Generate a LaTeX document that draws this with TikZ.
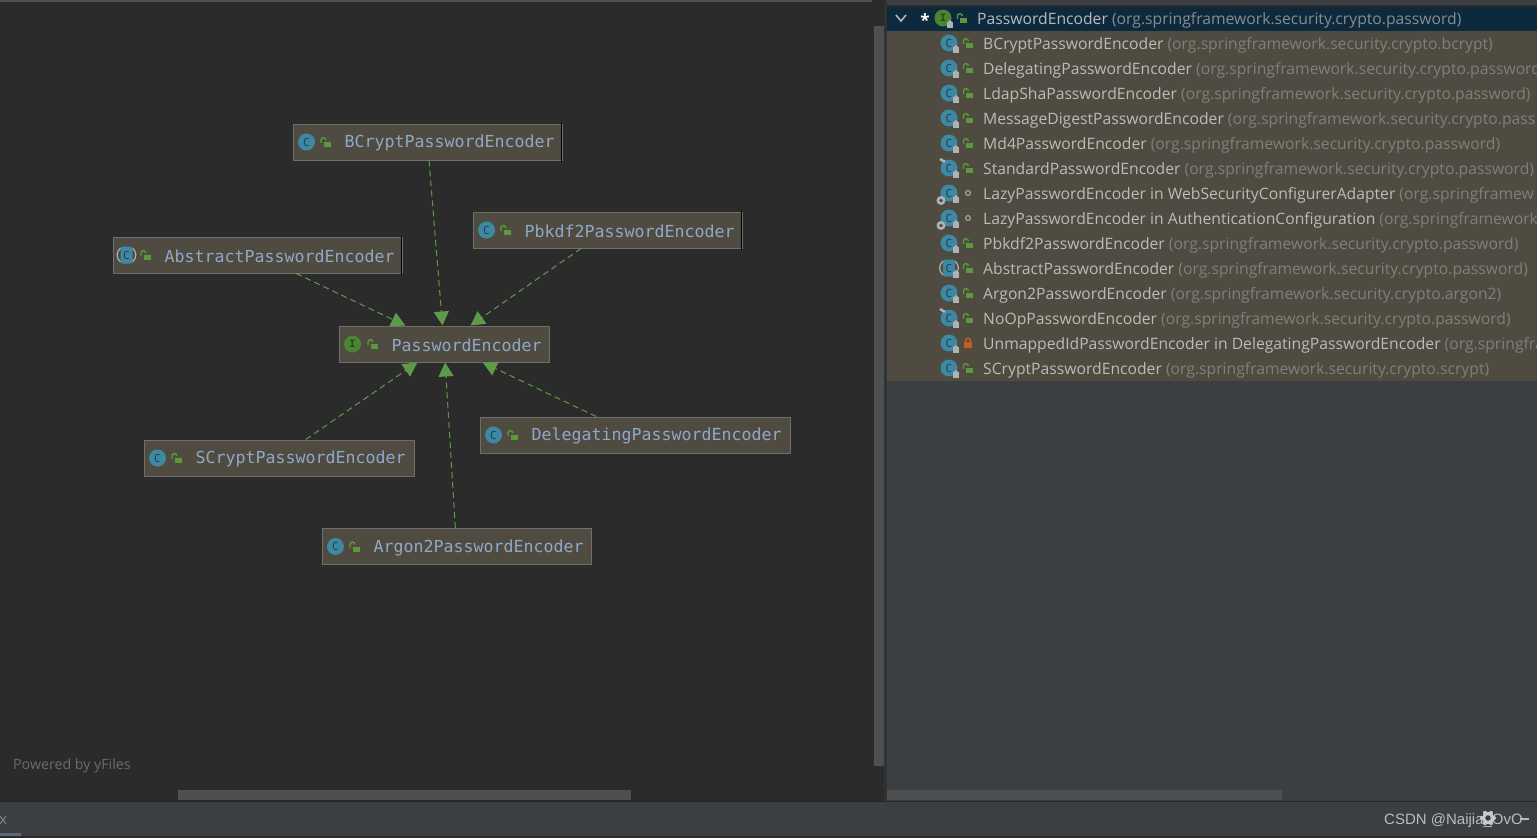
\documentclass[tikz,border=0pt]{standalone}
\usepackage{fontspec}
\setmainfont{Open Sans}
\setmonofont{DejaVu Sans Mono}
\newfontfamily\watermarkfont{Liberation Sans}
\usetikzlibrary{arrows.meta}

\definecolor{diagrambg}{HTML}{2B2B2B}
\definecolor{panelbg}{HTML}{3C3F41}
\definecolor{rowbg}{HTML}{4F4B41}
\definecolor{selectbg}{HTML}{0D293E}
\definecolor{barcol}{HTML}{4E4F50}
\definecolor{boxline}{HTML}{6E6E6E}
\definecolor{boxtext}{HTML}{8FA8C8}
\definecolor{edgecol}{HTML}{5F9A4A}
\definecolor{classcol}{HTML}{3F88A3}
\definecolor{classdark}{HTML}{1F3F4D}
\definecolor{ifacecol}{HTML}{4A8530}
\definecolor{ifacedark}{HTML}{2B3F22}
\definecolor{lockgreen}{HTML}{5A9A3C}
\definecolor{lockred}{HTML}{C75A22}
\definecolor{badge}{HTML}{AFB1B3}
\definecolor{namecol}{HTML}{BBBBBB}
\definecolor{pkgcol}{HTML}{7F7F7F}
\definecolor{dotcol}{HTML}{9A9A9A}

\tikzset{
  umlbox/.style={draw=boxline, fill=rowbg, line width=1pt, minimum height=36pt, inner sep=0pt},
  umltext/.style={anchor=west, inner sep=0pt, yshift=-1pt, text=boxtext, font=\ttfamily\fontsize{16.6}{18}\selectfont},
  rowtext/.style={anchor=west, inner sep=0pt, yshift=-2pt, text=namecol, font=\fontsize{15.7}{17}\selectfont},
  implements/.style={draw=edgecol, line width=1pt, dash pattern=on 6pt off 4pt,
    -{Triangle[length=14pt, width=15pt, fill=edgecol]}},
  classicon/.pic={
    \fill[classcol] (0,0) circle (8.5);
    \node[text=classdark, inner sep=0pt, font=\ttfamily\fontsize{11}{11}\selectfont] {C};
  },
  ifaceicon/.pic={
    \fill[ifacecol] (0,0) circle (8.5);
    \node[text=ifacedark, inner sep=0pt, font=\ttfamily\bfseries\fontsize{10}{10}\selectfont] {I};
  },
  abstracticon/.pic={
    \draw[badge, line width=1.2pt] (-6,-7) .. controls (-10.5,-3) and (-10.5,3) .. (-6,7);
    \draw[badge, line width=1.2pt] (6,-7) .. controls (10.5,-3) and (10.5,3) .. (6,7);
    \fill[classcol, rounded corners=2pt] (-6,-8.5) rectangle (6,8.5);
    \node[text=classdark, inner sep=0pt, font=\ttfamily\fontsize{11}{11}\selectfont] {C};
  },
  lockbadge/.pic={
    \fill[badge] (4,4.3) rectangle (10,10);
    \draw[badge, line width=1pt] (5.3,4.3) arc (180:360:1.7);
  },
  pinbadge/.pic={
    \draw[badge, line width=2.5pt] (-9,-9) -- (-4,-6);
  },
  gearbadge/.pic={
    \fill[badge] (-8,7.5) circle (4.5);
    \fill[rowbg] (-8,7.5) circle (1.8);
  },
  lockopen/.pic={
    \fill[lockgreen] (-2,0) rectangle (5,5);
    \draw[lockgreen, line width=1.4pt] (-4.5,1) -- (-4.5,-2) arc (180:360:2.4);
  },
  lockclosed/.pic={
    \fill[lockred] (-4,-1) rectangle (4,5);
    \draw[lockred, line width=1.4pt] (-2.4,-1) -- (-2.4,-2.5) arc (180:360:2.4) -- (2.4,-1);
  },
  lockdot/.pic={
    \draw[dotcol, line width=1.4pt] (0,0) circle (2.4);
  },
  plainclass/.pic={\pic {classicon}; \pic {lockbadge};},
  pinclass/.pic={\pic {classicon}; \pic {lockbadge}; \pic {pinbadge};},
  lazyclass/.pic={\pic {classicon}; \pic {lockbadge}; \pic {gearbadge};},
  abstractclass/.pic={\pic {abstracticon}; \pic {lockbadge};},
}

\begin{document}
\begin{tikzpicture}[x=1pt, y=-1pt]
\useasboundingbox (0,0) rectangle (1537,838);

% panels
\fill[diagrambg] (0,0) rectangle (1537,838);
\fill[barcol] (0,0) rectangle (872,2);
\fill[panelbg] (887,0) rectangle (1537,802);
\fill[panelbg] (0,802) rectangle (1537,836);
\fill[black!20!panelbg] (884,0) rectangle (887,802);
\fill[diagrambg] (887,5) rectangle (1537,7);
\fill[rowbg] (887,31) rectangle (1537,381);
\fill[selectbg] (887,7) rectangle (1537,31);

% scroll bars
\fill[barcol] (874,26) rectangle (884,766);
\fill[barcol] (178,790) rectangle (631,800);
\fill[barcol] (887,790) rectangle (1282,800);
\fill[black!40!panelbg] (0,801) rectangle (1537,802);

% boxes
\foreach \name/\x/\y/\w/\txt in {
  bcrypt/427.5/142/269/BCryptPasswordEncoder,
  pbkdf/607.5/230/269/Pbkdf2PasswordEncoder,
  scrypt/279/458/270/SCryptPasswordEncoder,
  delegating/635/435/310/DelegatingPasswordEncoder,
  argon/456.5/546.5/269/Argon2PasswordEncoder}
{
  \node[umlbox, minimum width=\w pt] (\name) at (\x,\y) {};
  \node[umltext] (\name text) at ([xshift=52pt]\name.west) {\txt};
  \pic at ([xshift=14pt]\name.west) {classicon};
  \pic at ([xshift=33pt]\name.west) {lockopen};
}
\node[umlbox, minimum width=289pt] (abstract) at (257.5,255) {};
\node[umltext] (abstract text) at ([xshift=52pt]abstract.west) {AbstractPasswordEncoder};
\pic at ([xshift=14pt]abstract.west) {abstracticon};
\pic at ([xshift=33pt]abstract.west) {lockopen};
\node[umlbox, minimum width=210pt] (encoder) at (444,344) {};
\node[umltext] (encoder text) at ([xshift=53pt]encoder.west) {PasswordEncoder};
\pic at ([xshift=14pt]encoder.west) {ifaceicon};
\pic at ([xshift=34pt]encoder.west) {lockopen};

% dark inner edge
\foreach \name in {bcrypt,pbkdf,abstract}
  \draw[black, line width=1pt] ([xshift=-1pt,yshift=1pt]\name.north east) -- ([xshift=-1pt,yshift=-1pt]\name.south east);

% realisation edges
\foreach \name in {bcrypt,pbkdf,abstract,scrypt,delegating,argon}
  \draw[implements] (\name) -- (encoder);

\node[anchor=west, inner sep=0pt, yshift=-2pt, text=white!30!diagrambg, font=\fontsize{14.2}{17}\selectfont] (powered) at (13,764) {Powered by yFiles};

% hierarchy list
\draw[namecol, line width=1.5pt] (896,15) -- (901,21) -- (906,15);
\node[inner sep=0pt, text=white, font=\bfseries\fontsize{17}{17}\selectfont] (star) at (925,20) {*};
\pic at (943,18) {ifaceicon};
\pic at (943,18) {lockbadge};
\pic at (962,18) {lockopen};
\begin{scope}
\clip (887,0) rectangle (1537,381);
\node[rowtext] (root) at (977,18) {\textcolor{namecol}{PasswordEncoder} \textcolor{pkgcol!80!namecol}{(org.springframework.security.crypto.password)}};
\foreach \i/\icon/\vis/\cls/\pkg in {
  1/plainclass/lockopen/BCryptPasswordEncoder/(org.springframework.security.crypto.bcrypt),
  2/plainclass/lockopen/DelegatingPasswordEncoder/(org.springframework.security.crypto.password),
  3/plainclass/lockopen/LdapShaPasswordEncoder/(org.springframework.security.crypto.password),
  4/plainclass/lockopen/MessageDigestPasswordEncoder/(org.springframework.security.crypto.pass,
  5/plainclass/lockopen/Md4PasswordEncoder/(org.springframework.security.crypto.password),
  6/pinclass/lockopen/StandardPasswordEncoder/(org.springframework.security.crypto.password),
  7/lazyclass/lockdot/LazyPasswordEncoder in WebSecurityConfigurerAdapter/(org.springframew,
  8/lazyclass/lockdot/LazyPasswordEncoder in AuthenticationConfiguration/(org.springframework,
  9/plainclass/lockopen/Pbkdf2PasswordEncoder/(org.springframework.security.crypto.password),
  10/abstractclass/lockopen/AbstractPasswordEncoder/(org.springframework.security.crypto.password),
  11/plainclass/lockopen/Argon2PasswordEncoder/(org.springframework.security.crypto.argon2),
  12/pinclass/lockopen/NoOpPasswordEncoder/(org.springframework.security.crypto.password),
  13/plainclass/lockclosed/UnmappedIdPasswordEncoder in DelegatingPasswordEncoder/(org.springfra,
  14/plainclass/lockopen/SCryptPasswordEncoder/(org.springframework.security.crypto.scrypt)}
{
  \node[rowtext] (row\i) at (983,{18+25*\i}) {\cls\ \textcolor{pkgcol}{\pkg}};
  \pic at (949,{18+25*\i}) {\icon};
  \pic at (968,{18+25*\i}) {\vis};
}
\end{scope}

% status bar
\draw[pkgcol, line width=1pt] (0,816) -- (6,824) (6,816) -- (0,824);
\fill[boxtext!40!panelbg] (0,833) rectangle (21,836);
\node[anchor=west, inner sep=0pt, yshift=-1pt, text=namecol, font=\watermarkfont\fontsize{15}{17}\selectfont] (watermark) at (1384,820) {CSDN @Naijia\_OvO};
\draw[namecol!80, line width=3pt] (1488,818) circle (4.5);
\foreach \a in {0,60,...,300}
  \fill[namecol!80] (1488,818) ++(\a:6) circle (2);
\draw[namecol, line width=1.5pt] (1520,819) -- (1529,819);
\end{tikzpicture}
\end{document}
